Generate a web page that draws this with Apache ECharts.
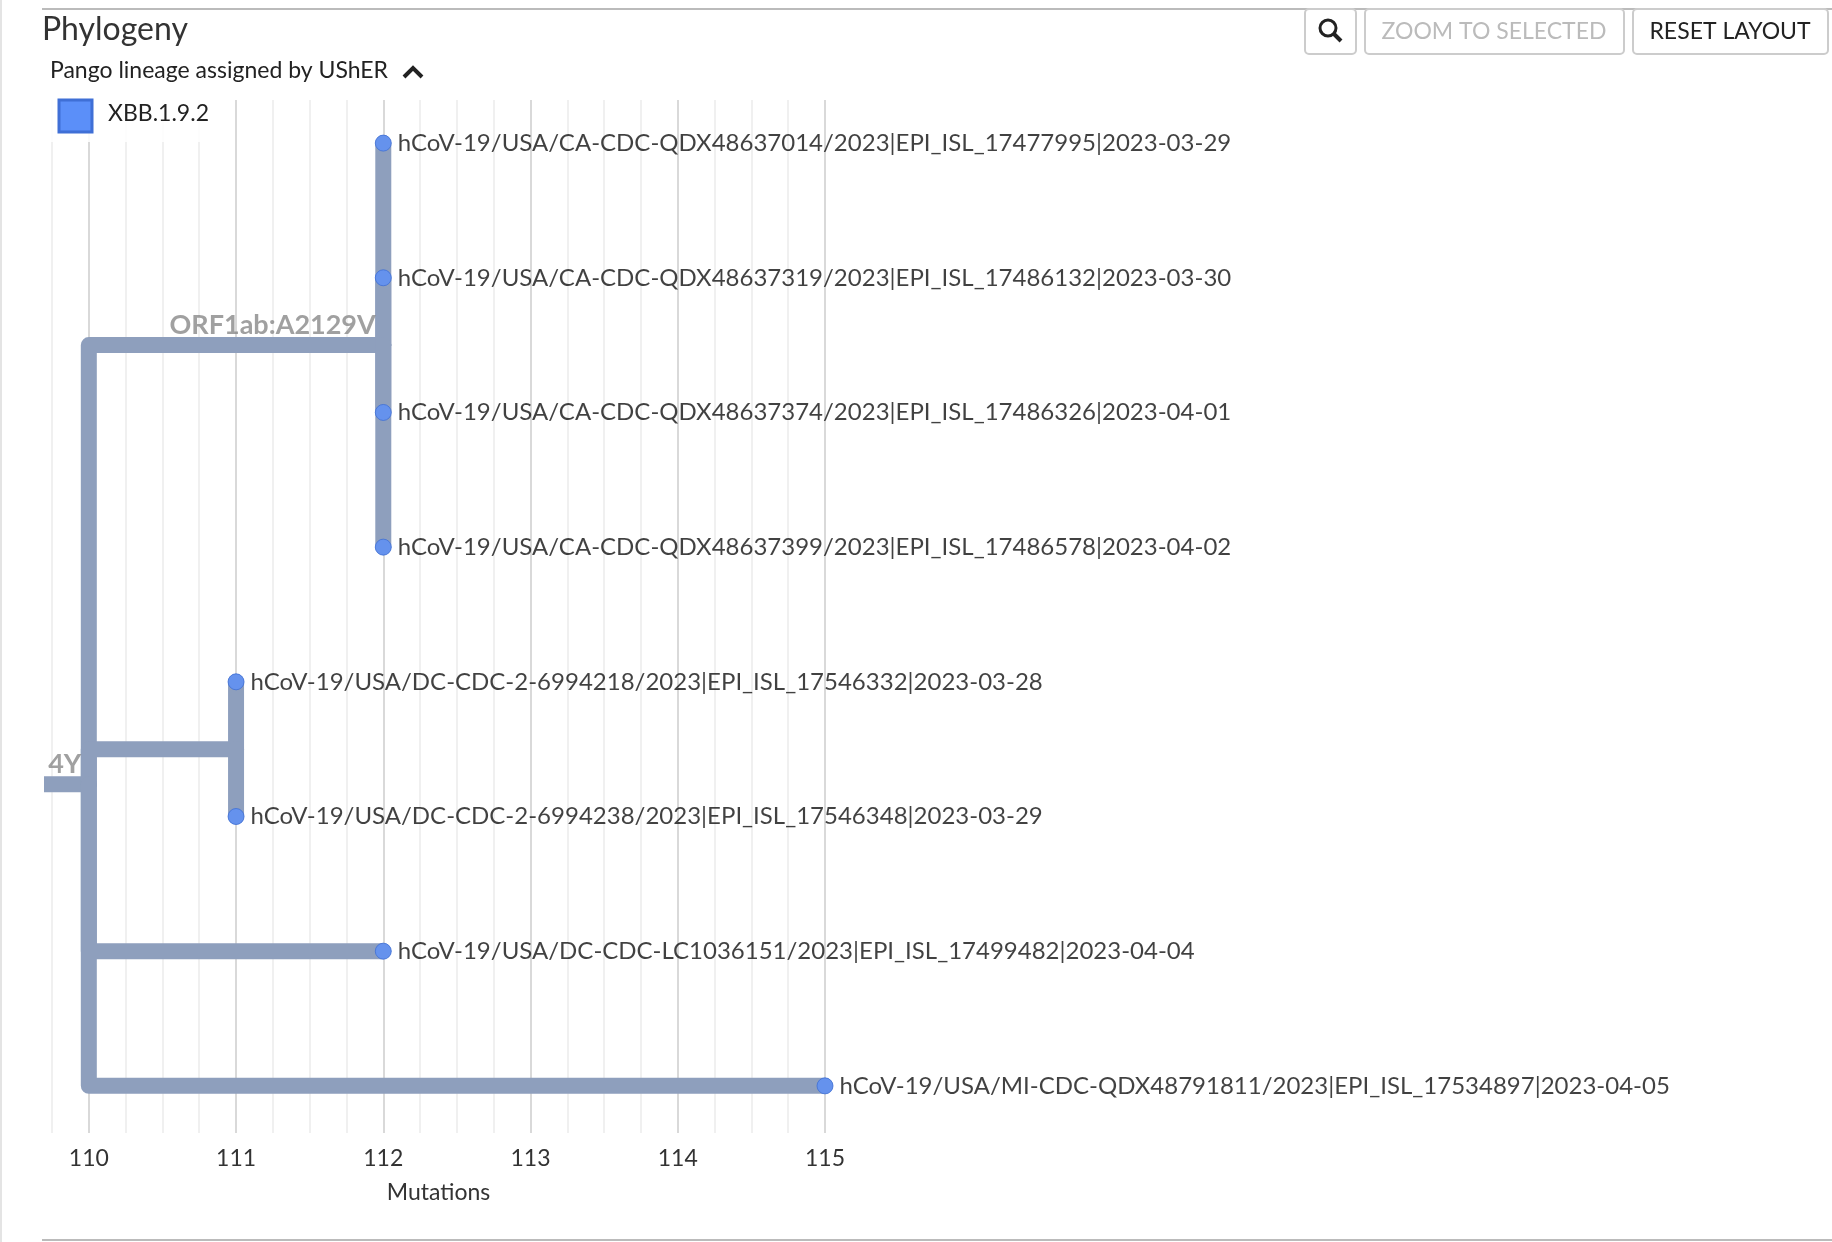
<!DOCTYPE html>
<html><head><meta charset="utf-8">
<script src="https://cdn.jsdelivr.net/npm/echarts@6/dist/echarts.min.js"></script>
<style>html,body{margin:0;padding:0;background:#fff}#main{width:1832px;height:1242px}</style>
</head><body><div id="main"></div>
<script>
// 叶子
var leafNames = [
  'hCoV-19/USA/CA-CDC-QDX48637014/2023|EPI_ISL_17477995|2023-03-29',
  'hCoV-19/USA/CA-CDC-QDX48637319/2023|EPI_ISL_17486132|2023-03-30',
  'hCoV-19/USA/CA-CDC-QDX48637374/2023|EPI_ISL_17486326|2023-04-01',
  'hCoV-19/USA/CA-CDC-QDX48637399/2023|EPI_ISL_17486578|2023-04-02',
  'hCoV-19/USA/DC-CDC-2-6994218/2023|EPI_ISL_17546332|2023-03-28',
  'hCoV-19/USA/DC-CDC-2-6994238/2023|EPI_ISL_17546348|2023-03-29',
  'hCoV-19/USA/DC-CDC-LC1036151/2023|EPI_ISL_17499482|2023-04-04',
  'hCoV-19/USA/MI-CDC-QDX48791811/2023|EPI_ISL_17534897|2023-04-05'
];
var leafMut = [112, 112, 112, 112, 111, 111, 112, 115];
var leafParent = [1, 1, 1, 1, 2, 2, 0, 0];
// 内部节点: 0 root, 1 ORF1ab, 2 unnamed
var innerMut = [110, 112, 111];
var innerRow = [4.76, 1.5, 4.5];
var innerParent = [-1, 0, 0];
var innerLabel = ['4Y', 'ORF1ab:A2129V', ''];
var rootStart = 109.68;

var edgeColor = '#8e9fbd';
var lines = [];
function elbow(px, py, cx, cy) {
  lines.push([[px, py], [px, cy], [cx, cy]]);
}
lines.push([[rootStart, innerRow[0]], [innerMut[0], innerRow[0]]]);
for (var i = 1; i < innerMut.length; i++) {
  var p = innerParent[i];
  elbow(innerMut[p], innerRow[p], innerMut[i], innerRow[i]);
}
for (var j = 0; j < leafNames.length; j++) {
  var q = leafParent[j];
  elbow(innerMut[q], innerRow[q], leafMut[j], j);
}
var lineSeries = lines.map(function (d) {
  return {
    type: 'line', data: d, symbol: 'none', silent: true, z: 2,
    lineStyle: { color: edgeColor, width: 16, cap: 'round', join: 'round' }
  };
});

var chart = echarts.init(document.getElementById('main'));
var font = 'Lato, sans-serif';
chart.setOption({
  animation: false,
  textStyle: { fontFamily: font },
  grid: { left: 52, right: 1007, top: 100, bottom: 109 },
  xAxis: {
    type: 'value', min: 109.75, max: 115, interval: 0.25,
    axisLine: { show: false }, axisTick: { show: false },
    axisLabel: {
      fontSize: 23, color: '#333', margin: 14, fontFamily: font,
      formatter: function (v) { return Math.abs(v - Math.round(v)) < 1e-6 ? String(Math.round(v)) : ''; }
    },
    splitLine: { show: true, lineStyle: { width: 2, color: ['#f0f0f0', '#d9d9d9', '#f0f0f0', '#f0f0f0'] } },
    name: 'Mutations', nameLocation: 'middle', nameGap: 48,
    nameTextStyle: { fontSize: 23, color: '#333', fontFamily: font }
  },
  yAxis: {
    type: 'value', min: -0.32, max: 7.35, inverse: true, show: false
  },
  series: lineSeries.concat([
    {
      type: 'scatter', z: 5, symbolSize: 16,
      itemStyle: { color: '#5b8ff9', borderColor: '#3f6fd6', borderWidth: 1 },
      data: leafNames.map(function (n, k) { return { value: [leafMut[k], k], name: n }; }),
      label: { show: true, position: 'right', distance: 6, formatter: '{b}', fontSize: 24, color: '#111', fontFamily: font }
    },
    {
      type: 'scatter', z: 6, symbolSize: 1, itemStyle: { color: 'rgba(0,0,0,0)' },
      data: innerMut.map(function (m, k) { return { value: [m, innerRow[k]], name: innerLabel[k] }; }),
      label: {
        show: true, formatter: '{b}', fontSize: 27, fontWeight: 'bold', color: '#888', fontFamily: font,
        position: 'left', offset: [-2, -20]
      }
    }
  ]),
  graphic: [
    { type: 'line', shape: { x1: 42, y1: 9, x2: 1832, y2: 9 }, style: { stroke: '#bbb', lineWidth: 2 } },
    { type: 'line', shape: { x1: 42, y1: 1240, x2: 1832, y2: 1240 }, style: { stroke: '#bbb', lineWidth: 2 } },
    { type: 'line', shape: { x1: 1, y1: 0, x2: 1, y2: 1242 }, style: { stroke: '#e4e4e4', lineWidth: 2 } },
    { type: 'text', left: 42, top: 14, style: { text: 'Phylogeny', fontSize: 32, fill: '#333', fontFamily: font } },
    { type: 'text', left: 50, top: 59, style: { text: 'Pango lineage assigned by UShER', fontSize: 23, fill: '#222', fontFamily: font } },
    { type: 'polyline', shape: { points: [[404, 77], [413, 68], [422, 77]] }, style: { stroke: '#222', lineWidth: 4, fill: 'none' } },
    { type: 'rect', shape: { x: 50, y: 96, width: 170, height: 46 }, style: { fill: 'rgba(255,255,255,0.85)' }, z: 100 },
    { type: 'rect', shape: { x: 59, y: 100, width: 33, height: 32 }, style: { fill: '#5b8ff9', stroke: '#3f6fd6', lineWidth: 3 }, z: 101 },
    { type: 'text', left: 108, top: 102, style: { text: 'XBB.1.9.2', fontSize: 23, fill: '#222', fontFamily: font }, z: 101 },
    { type: 'rect', shape: { x: 1305, y: 9, width: 51, height: 45, r: 4 }, style: { fill: '#fff', stroke: '#ccc', lineWidth: 2 } },
    { type: 'circle', shape: { cx: 1328, cy: 28, r: 8 }, style: { fill: 'none', stroke: '#222', lineWidth: 3 } },
    { type: 'line', shape: { x1: 1334, y1: 34, x2: 1341, y2: 41 }, style: { stroke: '#222', lineWidth: 4 } },
    { type: 'rect', shape: { x: 1365, y: 9, width: 259, height: 45, r: 4 }, style: { fill: '#fff', stroke: '#ccc', lineWidth: 2 } },
    { type: 'text', x: 1494, y: 32, style: { text: 'ZOOM TO SELECTED', fontSize: 23, fill: '#bbb', align: 'center', verticalAlign: 'middle', fontFamily: font } },
    { type: 'rect', shape: { x: 1633, y: 9, width: 195, height: 45, r: 4 }, style: { fill: '#fff', stroke: '#ccc', lineWidth: 2 } },
    { type: 'text', x: 1730, y: 32, style: { text: 'RESET LAYOUT', fontSize: 23, fill: '#222', align: 'center', verticalAlign: 'middle', fontFamily: font } }
  ]
});
</script></body></html>
